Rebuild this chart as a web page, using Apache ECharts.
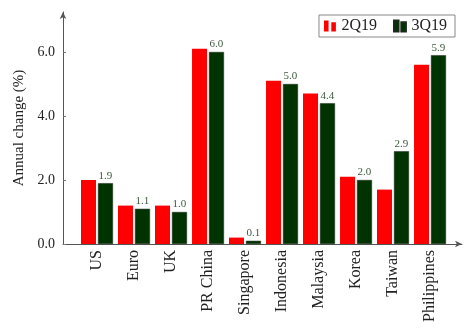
<!DOCTYPE html>
<html><head><meta charset="utf-8">
<script src="https://cdn.jsdelivr.net/npm/echarts@6/dist/echarts.min.js"></script>
<style>html,body{margin:0;padding:0;background:#fff}#c{width:474px;height:336px}</style>
</head><body><div id="c"></div>
<script>
const categories = ['US','Euro','UK','PR China','Singapore','Indonesia','Malaysia','Korea','Taiwan','Philippines'];
const q2 = [2.0,1.2,1.2,6.1,0.2,5.1,4.7,2.1,1.7,5.6];
const q3 = [1.9,1.1,1.0,6.0,0.1,5.0,4.4,2.0,2.9,5.9];
const yTicks = [0,2,4,6];
const F = 'Liberation Serif';
const chart = echarts.init(document.getElementById('c'));
chart.setOption({
  animation:false,
  textStyle:{fontFamily:F},
  legend:{
    right:19, top:15, orient:'horizontal',
    padding:[3,8,3,5], itemGap:16, itemWidth:13, itemHeight:11,
    borderColor:'#888', borderWidth:1,
    textStyle:{fontFamily:F, fontSize:16, color:'#222'},
    data:[
      {name:'2Q19', icon:'path://M0,0h5v12h-5zM8,2h5v10h-5z'},
      {name:'3Q19', icon:'path://M0,0h5v12h-5zM8,2h5v10h-5z'}
    ]
  },
  grid:[
    {left:78.5, right:25.5, top:12, bottom:92},
    {left:63, right:12, top:12, bottom:92}
  ],
  xAxis:[
    {type:'category', gridIndex:0, data:categories,
     axisLine:{show:false}, axisTick:{show:false},
     axisLabel:{rotate:90, margin:6, fontFamily:F, fontSize:16, color:'#222'}},
    {type:'value', gridIndex:1, min:0, max:1, show:true,
     axisLine:{show:true, lineStyle:{color:'#555', width:1}, symbol:['none','arrow'], symbolSize:[5,7]},
     axisTick:{show:false}, axisLabel:{show:false}, splitLine:{show:false}}
  ],
  yAxis:[
    {type:'value', gridIndex:0, min:0, max:7.25, offset:15.5,
     name:'Annual change (%)', nameLocation:'middle', nameGap:33,
     nameTextStyle:{fontFamily:F, fontSize:15, color:'#222'},
     axisLine:{show:true, lineStyle:{color:'#555', width:1}, symbol:['none','arrow'], symbolSize:[5,7]},
     axisTick:{show:true, inside:true, length:3, customValues:yTicks, lineStyle:{color:'#777'}},
     axisLabel:{customValues:yTicks, margin:8, fontFamily:F, fontSize:14, color:'#222', formatter:v=>v.toFixed(1)},
     splitLine:{show:false}},
    {type:'value', gridIndex:1, show:false, min:0, max:1}
  ],
  series:[
    {name:'2Q19', type:'bar', xAxisIndex:0, yAxisIndex:0, data:q2, barWidth:15, barGap:'13%',
     itemStyle:{color:'#ff0000'}},
    {name:'3Q19', type:'bar', xAxisIndex:0, yAxisIndex:0, data:q3, barWidth:15, barGap:'13%',
     itemStyle:{color:'#003300', borderColor:'#1a2a1a', borderWidth:0.5},
     label:{show:true, position:'top', distance:2, fontFamily:F, fontSize:11, color:'#3d5a3d', formatter:p=>p.value.toFixed(1)}}
  ]
});
</script></body></html>
